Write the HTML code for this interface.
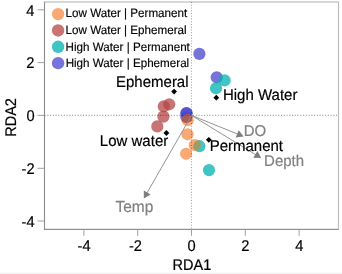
<!DOCTYPE html>
<html><head><meta charset="utf-8">
<style>
html,body{margin:0;padding:0;background:#fff;}
body{width:342px;height:274px;overflow:hidden;}
svg{display:block;font-family:"Liberation Sans",sans-serif;}
</style></head><body>
<svg width="342" height="274" viewBox="0 0 342 274">
<rect x="0" y="0" width="342" height="274" fill="#fff"/>
<rect x="0" y="272.6" width="342" height="2" fill="#f3f3f3"/>
<!-- panel border -->
<rect x="44.5" y="2" width="294" height="227.4" fill="none" stroke="#bcbcbc" stroke-width="1.2"/>
<!-- axis lines -->
<line x1="44.5" y1="2" x2="44.5" y2="229.9" stroke="#8c8c8c" stroke-width="1"/>
<line x1="44" y1="229.4" x2="338.5" y2="229.4" stroke="#8c8c8c" stroke-width="1"/>
<!-- ticks -->
<g stroke="#a0a0a0" stroke-width="1">
<line x1="37.5" y1="9.8" x2="44.5" y2="9.8"/>
<line x1="37.5" y1="62.6" x2="44.5" y2="62.6"/>
<line x1="37.5" y1="115.4" x2="44.5" y2="115.4"/>
<line x1="37.5" y1="168.3" x2="44.5" y2="168.3"/>
<line x1="37.5" y1="221" x2="44.5" y2="221"/>
<line x1="83.9" y1="229.4" x2="83.9" y2="235.8"/>
<line x1="137.7" y1="229.4" x2="137.7" y2="235.8"/>
<line x1="191.5" y1="229.4" x2="191.5" y2="235.8"/>
<line x1="245.3" y1="229.4" x2="245.3" y2="235.8"/>
<line x1="299.1" y1="229.4" x2="299.1" y2="235.8"/>
</g>
<!-- tick labels -->
<g font-size="14.67" fill="#000" stroke="#000" stroke-width="0.2" text-anchor="end" transform="skewX(0.03) scale(1,1.06)">
<text x="34.5" y="14.81">4</text>
<text x="34.5" y="64.62">2</text>
<text x="34.5" y="114.34">0</text>
<text x="34.5" y="164.15">-2</text>
<text x="34.5" y="213.96">-4</text>
</g>
<g font-size="14.67" fill="#000" stroke="#000" stroke-width="0.2" text-anchor="middle" transform="skewX(0.03) scale(1,1.06)">
<text x="83.9" y="236.70">-4</text>
<text x="135.3" y="236.70">-2</text>
<text x="191.5" y="236.70">0</text>
<text x="245.3" y="236.70">2</text>
<text x="299.1" y="236.70">4</text>
</g>
<!-- axis titles -->
<text x="191.8" y="254.53" font-size="14.5" text-anchor="middle" fill="#000" stroke="#000" stroke-width="0.2" transform="skewX(0.03) scale(1,1.06)">RDA1</text>
<text transform="translate(15.6,117.4) rotate(-90) skewX(0.03) scale(1,1.06)" font-size="14.5" text-anchor="middle" fill="#000" stroke="#000" stroke-width="0.2">RDA2</text>
<!-- points -->
<defs><clipPath id="vclip"><circle cx="186.5" cy="113.2" r="6.1"/><circle cx="186.3" cy="117" r="6.1"/></clipPath><clipPath id="tclip"><circle cx="199.4" cy="146.2" r="6.1"/></clipPath></defs>
<g fill-opacity="0.75">
<g fill="#4a46cc">
<circle cx="199.4" cy="53.9" r="6.1"/>
<circle cx="216.7" cy="77.3" r="6.1"/>
<circle cx="186.5" cy="113.1" r="6.1"/>
<circle cx="186.5" cy="113.3" r="6.1"/>
<circle cx="186.3" cy="117" r="6.1"/>
</g>
<g fill="#00b0b0">
<circle cx="224.6" cy="80.4" r="6.1"/>
<circle cx="216" cy="88.2" r="6.1"/>
<circle cx="199.4" cy="146.2" r="6.1"/>
<circle cx="209" cy="170.1" r="6.1"/>
</g>
<g fill="#f78c45">
<circle cx="187.8" cy="120.3" r="6"/>
<circle cx="187.5" cy="134.3" r="6.1"/>
<circle cx="194.7" cy="145" r="6.1"/>
<circle cx="186.1" cy="153.8" r="6.1"/>
</g>
<g fill="#b54545">
<circle cx="169.2" cy="104.3" r="6.1"/>
<circle cx="163.8" cy="106.4" r="6.1"/>
<circle cx="163.4" cy="116.6" r="6.1"/>
<circle cx="157.3" cy="126.4" r="6.1"/>
</g>
</g>
<circle cx="187.8" cy="120.3" r="6" fill="#ad5a50" clip-path="url(#vclip)"/>
<circle cx="194.7" cy="145" r="6.1" fill="#9b9c6e" clip-path="url(#tclip)"/>
<!-- zero lines -->
<line x1="44.5" y1="115.4" x2="338.5" y2="115.4" stroke="#000" stroke-opacity="0.36" stroke-width="1.1" stroke-dasharray="1.1 1.65"/>
<line x1="191.5" y1="2" x2="191.5" y2="229.4" stroke="#000" stroke-opacity="0.36" stroke-width="1.1" stroke-dasharray="1.1 1.65"/>
<!-- arrows -->
<g stroke="#8e8e8e" stroke-width="0.95" fill="none">
<line x1="191.5" y1="115.4" x2="237.7" y2="134.1"/>
<line x1="191.5" y1="115.4" x2="255.7" y2="154.7"/>
<line x1="191.5" y1="115.4" x2="147.0" y2="192.9"/>
</g>
<g fill="#7e7e7e">
<polygon points="243.6,136.5 238.7,130.2 235.7,137.6"/>
<polygon points="261.2,158.0 257.4,151.0 253.2,157.8"/>
<polygon points="143.8,198.5 150.7,194.5 143.8,190.5"/>
</g>
<!-- diamonds -->
<g fill="#000">
<path d="M174.1 88.7 l2.9 2.9 l-2.9 2.9 l-2.9 -2.9z"/>
<path d="M216.3 94.8 l2.9 2.9 l-2.9 2.9 l-2.9 -2.9z"/>
<path d="M166.4 130.1 l2.9 2.9 l-2.9 2.9 l-2.9 -2.9z"/>
<path d="M208.8 136.9 l2.9 2.9 l-2.9 2.9 l-2.9 -2.9z"/>
</g>
<!-- labels -->
<g font-size="15" fill="#000" stroke="#000" stroke-width="0.18" transform="skewX(0.03) scale(1,1.04)">
<text x="116.0" y="83.94">Ephemeral</text>
<text x="222.9" y="95.77">High Water</text>
<text x="99.8" y="140.67">Low water</text>
<text x="209.6" y="145.38">Permanent</text>
</g>
<g font-size="15" fill="#808080" stroke="#808080" stroke-width="0.18" transform="skewX(0.03) scale(1,1.04)">
<text x="243.6" y="130.58">DO</text>
<text x="264" y="159.81">Depth</text>
<text x="115.4" y="203.46" font-size="15.5">Temp</text>
</g>
<!-- legend -->
<g fill-opacity="0.75">
<circle cx="58.1" cy="14.1" r="6.2" fill="#f78c45"/>
<circle cx="58.1" cy="30.45" r="6.2" fill="#b54545"/>
<circle cx="58.1" cy="46.8" r="6.2" fill="#00b0b0"/>
<circle cx="58.1" cy="63.15" r="6.2" fill="#4a46cc"/>
</g>
<g font-size="11.66" fill="#000" stroke="#000" stroke-width="0.15" transform="skewX(0.03) scale(1,1.04)">
<text x="65.6" y="16.73">Low Water | Permanent</text>
<text x="65.6" y="32.79">Low Water | Ephemeral</text>
<text x="65.6" y="48.65">High Water | Permanent</text>
<text x="65.6" y="64.52">High Water | Ephemeral</text>
</g>
</svg>
</body></html>
